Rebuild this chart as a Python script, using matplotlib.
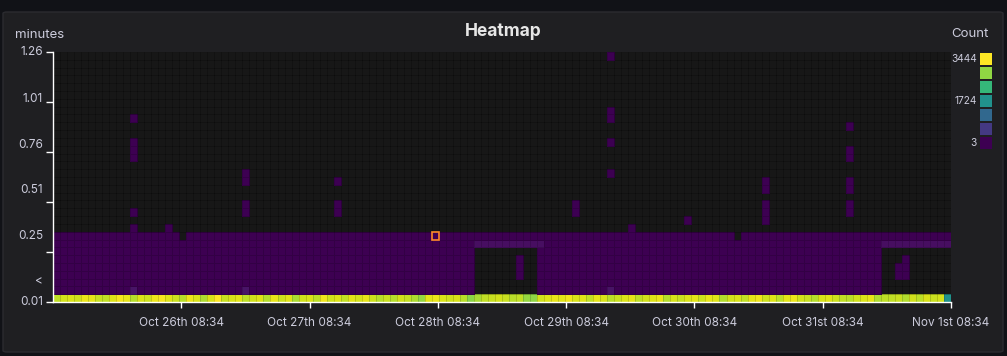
import numpy as np
import matplotlib.pyplot as plt
from matplotlib.colors import ListedColormap
from matplotlib.patches import FancyBboxPatch, Rectangle
from matplotlib.transforms import blended_transform_factory

plt.rcParams['font.family'] = ['Inter', 'DejaVu Sans']

W, H = 1007, 356

# ---- data ----
n_cols = 128          # time buckets over 7 days
n_rows = 32           # duration buckets
y_min, y_max = 0.01, 1.26   # minutes
days = 7

x_ticks = [1, 2, 3, 4, 5, 6, 7]
x_labels = ["Oct 26th 08:34", "Oct 27th 08:34", "Oct 28th 08:34", "Oct 29th 08:34",
            "Oct 30th 08:34", "Oct 31st 08:34", "Nov 1st 08:34"]

y_ticks = [0.01, 0.26, 0.51, 0.76, 1.01, 1.26]
y_label_text = ["0.01", "<", "0.25", "0.51", "0.76", "1.01", "1.26"]
y_label_pos = [0.01, 0.115, 0.34, 0.57, 0.795, 1.025, 1.26]

# lowest bucket (row 0) counts per time bucket
bottom_counts = [
    3120, 3210, 3250, 3200, 3330, 3300, 3160, 3120, 3260, 3380, 3320, 3060, 3240, 3180, 3340, 3400, 3280, 3170, 3080, 3340,
    3250, 3020, 3240, 3444, 3150, 3230, 3290, 3100, 3190, 3260, 3060, 3320, 3180, 3270, 3010, 3200, 3230, 3100, 3350, 3210,
    3260, 3130, 3290, 3220, 3300, 3180, 3080, 3150, 3060, 3200, 3140, 3020, 2900, 3290, 3330, 3250, 3190, 3230, 3070, 2850,
    3000, 3120, 3160, 3210, 3150, 3080, 3110, 2900, 2860, 3200, 3260, 3310, 3290, 3350, 3240, 3280, 3130, 3300, 3240, 3090,
    3160, 3250, 3300, 3120, 3200, 3280, 3330, 3060, 3220, 3150, 3250, 3290, 3180, 3310, 3270, 3050, 3200, 3240, 3120, 3300,
    3350, 3180, 3260, 3100, 3290, 3340, 3210, 3160, 3060, 3230, 3270, 3180, 3120, 3090, 3190, 3250, 3300, 3040, 3100, 3120,
    3150, 3050, 3190, 3100, 3230, 3170, 3210, 1740]

# typical counts for rows 1..8 (the purple band)
band_counts = [70, 65, 60, 55, 50, 45, 35, 20]
band_light_cells = [(11, 1, 190), (27, 1, 190), (79, 1, 170)]
band_gaps = [(18, 8), (97, 8)]
# time ranges where rows 1..6 are empty and row 7 is lighter
band_holes = [(60, 68), (118, 127)]
band_hole_row7 = [(60, 69, 130), (118, 127, 130)]

# sparse low-count cells (col, row)
sparse_cells = [(11, 23), (11, 18), (11, 19), (11, 20), (11, 11), (11, 9), (16, 9),
                (27, 15), (27, 16), (27, 11), (27, 12), (40, 15), (40, 11), (40, 12),
                (66, 3), (66, 4), (66, 5), (74, 11), (74, 12),
                (79, 31), (79, 23), (79, 24), (79, 20), (79, 16), (82, 9), (90, 10),
                (101, 14), (101, 15), (101, 10), (101, 11), (101, 12),
                (113, 22), (113, 18), (113, 19), (113, 14), (113, 15), (113, 11), (113, 12),
                (120, 3), (120, 4), (121, 3), (121, 4), (121, 5)]
sparse_count = 5

hover_cell = (54, 8)

legend_max, legend_mid, legend_min = 3444, 1724, 3

# ---- build matrix ----
Z = np.full((n_rows, n_cols), np.nan)
Z[0, :] = bottom_counts
for i, c in enumerate(band_counts):
    Z[i + 1, :] = c
for c, r, v in band_light_cells:
    Z[r, c] = v
for c, r in band_gaps:
    Z[r, c] = np.nan
for c0, c1 in band_holes:
    Z[1:7, c0:c1 + 1] = np.nan
for c0, c1, v in band_hole_row7:
    Z[7, c0:c1 + 1] = v
for c, r in sparse_cells:
    Z[r, c] = sparse_count
Zm = np.ma.masked_invalid(Z)

xe = np.linspace(0, days, n_cols + 1)
ye = np.linspace(y_min, y_max, n_rows + 1)

# viridis with a slightly deeper low end, as in the panel
vir = plt.get_cmap('viridis')(np.linspace(0, 1, 256))
vir[:6, :3] = np.array([0x3d, 0x00, 0x52]) / 255
cmap = ListedColormap(vir)
cmap.set_bad((0, 0, 0, 0))

# ---- figure ----
fig = plt.figure(figsize=(W / 100, H / 100), dpi=100, facecolor='#111217')
panel = FancyBboxPatch((3 / W, (H - 352) / H), 1000 / W, 340 / H,
                       boxstyle='round,pad=0,rounding_size=0.004',
                       transform=fig.transFigure, facecolor='#1f1f22',
                       edgecolor='#2b2b30', linewidth=1, zorder=-10)
fig.patches.append(panel)

ax = fig.add_axes([53 / W, (H - 302) / H, 898 / W, 250 / H])
ax.set_zorder(2)
ax.set_facecolor('#181818')
# faint empty-bucket grid
ax.pcolormesh(xe, ye, np.zeros((n_rows, n_cols)), cmap=ListedColormap(['#171717']),
              edgecolors='#1b1b1b', linewidth=0.6)
ax.pcolormesh(xe, ye, Zm, cmap=cmap, vmin=legend_min, vmax=legend_max,
              edgecolors=(0, 0, 0, 0.15), linewidth=0.5)

hc, hr = hover_cell
ax.add_patch(Rectangle((xe[hc], ye[hr]), xe[1] - xe[0], ye[1] - ye[0],
                       fill=False, edgecolor='#ff8a2a', linewidth=1.2, zorder=5))

ax.set_xlim(0, days)
ax.set_ylim(y_min, y_max)
for s in ['top', 'right']:
    ax.spines[s].set_visible(False)
for s in ['left', 'bottom']:
    ax.spines[s].set_color('#ffffff')
    ax.spines[s].set_linewidth(1)

ax.set_xticks(x_ticks)
ax.set_xticklabels(x_labels)
ax.set_yticks(y_ticks)
ax.set_yticklabels([])
ax.tick_params(axis='x', length=4.5, width=1, color='#ffffff', labelcolor='#ccccdc',
               labelsize=8.5, pad=6)
ax.tick_params(axis='y', length=5, width=1, color='#ffffff')

tr = blended_transform_factory(ax.transAxes, ax.transData)
for txt, yv in zip(y_label_text, y_label_pos):
    ax.text(-10 / 898, yv, txt, transform=tr, ha='right', va='center',
            color='#ccccdc', fontsize=8.5, clip_on=False)

fig.text(15 / W, 1 - 35 / H, "minutes", ha='left', va='center', color='#ccccdc', fontsize=9.5)
fig.text(503 / W, 1 - 32 / H, "Heatmap", ha='center', va='center', color='#e6e6e6',
         fontsize=12.5, fontweight='bold')
fig.text(989 / W, 1 - 34 / H, "Count", ha='right', va='center', color='#ccccdc', fontsize=9.5)

# legend swatches
n_sw = 7
for i in range(n_sw):
    frac = 1 - i / (n_sw - 1)
    top = 52.7 + 14 * i
    fig.patches.append(Rectangle((980 / W, 1 - (top + 12.3) / H), 12 / W, 12.3 / H,
                                 transform=fig.transFigure, facecolor=cmap(frac),
                                 edgecolor='none'))
for val, i in [(legend_max, 0), (legend_mid, 3), (legend_min, 6)]:
    fig.text(977 / W, 1 - (52.7 + 14 * i + 6.5) / H, str(val), ha='right', va='center',
             color='#ccccdc', fontsize=7.3)

fig.savefig("out.png", dpi=100, facecolor=fig.get_facecolor())
